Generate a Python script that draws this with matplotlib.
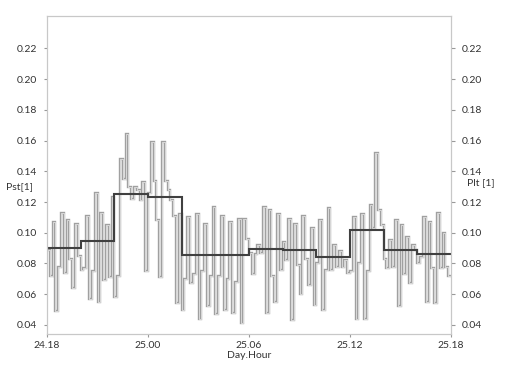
import numpy as np
import matplotlib
matplotlib.use("Agg")
import matplotlib.pyplot as plt
import matplotlib.patheffects as pe

plt.rcParams['font.family'] = ['Lato', 'DejaVu Sans']

# Pst: 10-minute values, 12 per 2-hour block
pst_b1 = [0.089, 0.072, 0.107, 0.049, 0.078, 0.113, 0.074, 0.108, 0.083, 0.064, 0.106, 0.085]
pst_b2 = [0.076, 0.077, 0.111, 0.057, 0.075, 0.126, 0.055, 0.113, 0.069, 0.105, 0.071, 0.123]
pst_b3 = [0.058, 0.072, 0.148, 0.135, 0.164, 0.130, 0.122, 0.130, 0.128, 0.121, 0.133, 0.075]
pst_b4 = [0.126, 0.159, 0.134, 0.108, 0.071, 0.159, 0.134, 0.128, 0.121, 0.111, 0.054, 0.112]
pst_b5 = [0.050, 0.070, 0.110, 0.067, 0.073, 0.112, 0.044, 0.075, 0.106, 0.052, 0.072, 0.117]
pst_b6 = [0.047, 0.072, 0.111, 0.050, 0.070, 0.107, 0.048, 0.068, 0.109, 0.041, 0.109, 0.096]
pst_b7 = [0.087, 0.073, 0.086, 0.092, 0.087, 0.117, 0.048, 0.115, 0.072, 0.055, 0.112, 0.076]
pst_b8 = [0.094, 0.082, 0.109, 0.043, 0.106, 0.079, 0.060, 0.111, 0.083, 0.066, 0.103, 0.053]
pst_b9 = [0.080, 0.108, 0.050, 0.076, 0.116, 0.076, 0.092, 0.078, 0.088, 0.078, 0.082, 0.074]
pst_b10 = [0.075, 0.110, 0.044, 0.080, 0.112, 0.044, 0.075, 0.118, 0.103, 0.152, 0.115, 0.105]
pst_b11 = [0.083, 0.077, 0.095, 0.078, 0.108, 0.052, 0.105, 0.073, 0.097, 0.067, 0.092, 0.089]
pst_b12 = [0.080, 0.084, 0.110, 0.055, 0.107, 0.077, 0.054, 0.113, 0.077, 0.100, 0.078, 0.072]

# Plt: 2-hour values
plt_values = [0.0899, 0.0947, 0.1250, 0.1235, 0.0855, 0.0855,
              0.0892, 0.0888, 0.0845, 0.1018, 0.0888, 0.0862]

x_tick_hours = [0, 6, 12, 18, 24]
x_tick_labels = ['24.18', '25.00', '25.06', '25.12', '25.18']
y_ticks = [0.04, 0.06, 0.08, 0.10, 0.12, 0.14, 0.16, 0.18, 0.20, 0.22]
y_tick_labels = ['0.04', '0.06', '0.08', '0.10', '0.12', '0.14', '0.16', '0.18', '0.20', '0.22']

pst = np.array(pst_b1 + pst_b2 + pst_b3 + pst_b4 + pst_b5 + pst_b6 +
               pst_b7 + pst_b8 + pst_b9 + pst_b10 + pst_b11 + pst_b12)
pst_edges = np.arange(len(pst) + 1) / 6.0
plt_edges = np.arange(len(plt_values) + 1) * 2.0

txt = '#333333'
spine_c = '#c8c8c8'

fig = plt.figure(figsize=(5.06, 3.74), dpi=100)
ax = fig.add_axes([47/506, 1 - 334/374, 404/506, 318.5/374])

ax.stairs(pst, pst_edges, baseline=None, fill=False, edgecolor='#eeeeee', linewidth=0.5,
          path_effects=[pe.Stroke(linewidth=1.7, foreground='#a0a0a0'), pe.Normal()])
ax.stairs(plt_values, plt_edges, baseline=None, fill=False, edgecolor='#404040', linewidth=1.5)

ax.set_xlim(0, 24)
ax.set_ylim(0.0341, 0.2414)
ax.set_xticks(x_tick_hours)
ax.set_xticklabels(x_tick_labels)
ax.set_yticks(y_ticks)
ax.set_yticklabels(y_tick_labels)

for s in ax.spines.values():
    s.set_color(spine_c)
    s.set_linewidth(0.8)

ax.tick_params(axis='both', length=2, width=0.8, color='#999999', labelsize=7.5, labelcolor=txt)
ax.tick_params(axis='y', pad=5)
ax.tick_params(axis='x', pad=3)

ax2 = ax.twinx()
ax2.set_ylim(ax.get_ylim())
ax2.set_yticks(y_ticks)
ax2.set_yticklabels(y_tick_labels)
ax2.tick_params(axis='y', length=3, width=0.8, color='#999999', labelsize=7.5, labelcolor=txt, pad=5)
for s in ax2.spines.values():
    s.set_color(spine_c)
    s.set_linewidth(0.8)

ax.set_xlabel('Day.Hour', fontsize=7.5, color=txt, labelpad=1)
ax.set_ylabel('Pst[1]', fontsize=7.5, color=txt, rotation=0, ha='center', va='center')
ax.yaxis.set_label_coords(-0.067, 0.462)
ax2.set_ylabel('Plt [1]', fontsize=7.5, color=txt, rotation=0, ha='center', va='center')
ax2.yaxis.set_label_coords(1.075, 0.474)

fig.savefig('out.png', dpi=100, facecolor='white')
